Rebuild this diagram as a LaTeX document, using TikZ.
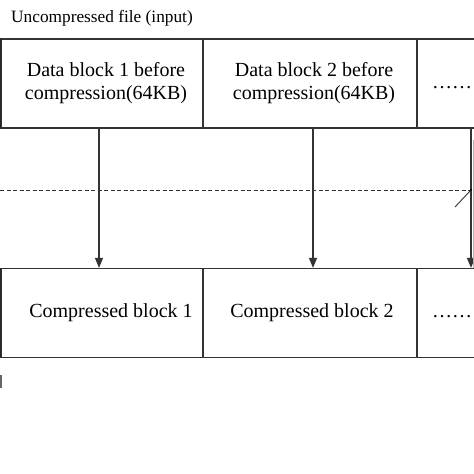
\documentclass[tikz,border=0pt]{standalone}
\usepackage{fontspec}
\setmainfont{Liberation Serif}
\usetikzlibrary{arrows.meta}

\begin{document}
\begin{tikzpicture}[x=1pt,y=-1pt,
  cell/.style={draw=black!80,line width=1.3pt,minimum height=89pt,inner sep=0pt,align=center,font=\fontsize{20}{23}\selectfont},
  flow/.style={draw=black!80,line width=1.2pt,-{Triangle[length=10pt,width=8pt]}}]
\useasboundingbox (0,0) rectangle (474,474);
\fill[white] (0,0) rectangle (474,474);

% title
\node[anchor=base west,font=\fontsize{17.3}{20}\selectfont,inner sep=0pt] (title) at (11,22) {Uncompressed file (input)};

% input blocks
\node[cell,minimum width=202pt] (in1) at (102,83.5) {\hspace*{8pt}Data block 1 before\\\hspace*{8pt}compression(64KB)};
\node[cell,minimum width=214pt] (in2) at (310,83.5) {\hspace*{8pt}Data block 2 before\\\hspace*{8pt}compression(64KB)};
\node[cell,minimum width=70pt] (in3) at (452,83.5) {\strut……};

% output blocks
\node[cell,minimum width=202pt] (out1) at (102,313) {\hspace*{18pt}Compressed block 1};
\node[cell,minimum width=214pt] (out2) at (310,313) {\hspace*{4pt}Compressed block 2};
\node[cell,minimum width=70pt] (out3) at (452,313) {\strut……};

% thick left edges
\draw[line width=2.2pt,black!85] (in1.north west) -- (in1.south west);
\draw[line width=2.2pt,black!85] (out1.north west) -- (out1.south west);

% arrows
\draw[flow] ([xshift=-3pt]in1.south) -- ([xshift=-3pt]out1.north);
\draw[flow] ([xshift=3pt]in2.south) -- ([xshift=3pt]out2.north);
\draw[flow] ([xshift=19pt]in3.south) -- ([xshift=19pt]out3.north);

% dashed cut line
\coordinate (cutl) at (0,190);
\coordinate (cutr) at (471,190);
\coordinate (tick) at (455,207);
\draw[black!80,line width=0.9pt,dash pattern=on 4pt off 2.5pt] (cutl) -- (cutr);
\draw[black!80,line width=0.9pt] (cutr) -- (tick);
\fill[black] (cutr) circle (1.2pt);

% edge marks
\draw[black!30,line width=2pt] (473.5,140) -- (473.5,268);
\draw[black!60,line width=2pt] (1,375) -- (1,388);
\end{tikzpicture}
\end{document}
